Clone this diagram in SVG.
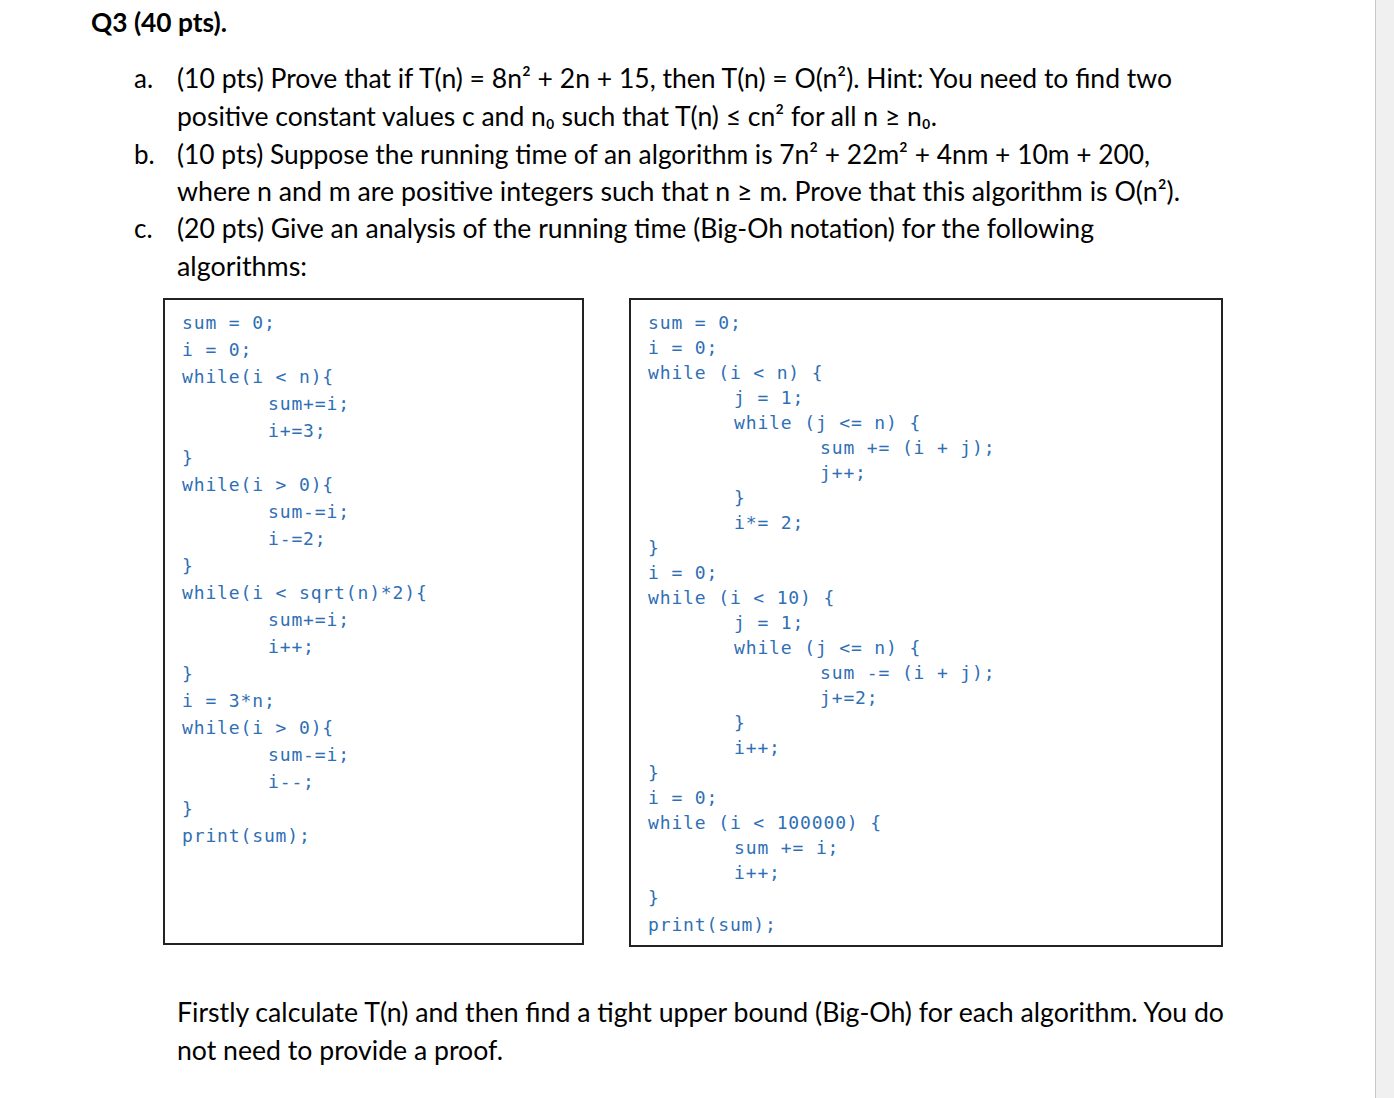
<svg xmlns="http://www.w3.org/2000/svg" width="1394" height="1098" viewBox="0 0 1394 1098">
<style>
.t{font-family:Lato,"Open Sans","DejaVu Sans",sans-serif;font-size:26px;fill:#000}
.b{font-weight:bold}
.c{font-family:"DejaVu Sans Mono","Liberation Mono",monospace;font-size:18px;fill:#2f6fb5;letter-spacing:0.86px;white-space:pre}
.box{fill:none;stroke:#222;stroke-width:2}
</style>
<rect width="1394" height="1098" fill="#fff"/>
<rect x="1375" y="0" width="19" height="1098" fill="#f0f0f0"/>
<line x1="1375.5" y1="0" x2="1375.5" y2="1098" stroke="#c8c8c8" stroke-width="1"/>
<text class="t b" x="91" y="32" textLength="136" lengthAdjust="spacingAndGlyphs">Q3 (40 pts).</text>
<text class="t" x="134" y="88">a.</text>
<text class="t" x="177" y="88" textLength="995" lengthAdjust="spacingAndGlyphs">(10 pts) Prove that if T(n) = 8n² + 2n + 15, then T(n) = O(n²). Hint: You need to find two</text>
<text class="t" x="177" y="126" textLength="760" lengthAdjust="spacingAndGlyphs">positive constant values c and n₀ such that T(n) ≤ cn² for all n ≥ n₀.</text>
<text class="t" x="134" y="164">b.</text>
<text class="t" x="177" y="164" textLength="973" lengthAdjust="spacingAndGlyphs">(10 pts) Suppose the running time of an algorithm is 7n² + 22m² + 4nm + 10m + 200,</text>
<text class="t" x="177" y="201" textLength="1003" lengthAdjust="spacingAndGlyphs">where n and m are positive integers such that n ≥ m. Prove that this algorithm is O(n²).</text>
<text class="t" x="134" y="238">c.</text>
<text class="t" x="177" y="238" textLength="917" lengthAdjust="spacingAndGlyphs">(20 pts) Give an analysis of the running time (Big-Oh notation) for the following</text>
<text class="t" x="177" y="276" textLength="130" lengthAdjust="spacingAndGlyphs">algorithms:</text>
<rect class="box" x="164" y="299" width="419" height="645"/>
<rect class="box" x="630" y="299" width="592" height="647"/>
<g id="left-code" class="c">
<text x="182" y="329">sum = 0;</text>
<text x="182" y="356">i = 0;</text>
<text x="182" y="383">while(i &lt; n){</text>
<text x="268" y="410">sum+=i;</text>
<text x="268" y="437">i+=3;</text>
<text x="182" y="464">}</text>
<text x="182" y="491">while(i &gt; 0){</text>
<text x="268" y="518">sum-=i;</text>
<text x="268" y="545">i-=2;</text>
<text x="182" y="572">}</text>
<text x="182" y="599">while(i &lt; sqrt(n)*2){</text>
<text x="268" y="626">sum+=i;</text>
<text x="268" y="653">i++;</text>
<text x="182" y="680">}</text>
<text x="182" y="707">i = 3*n;</text>
<text x="182" y="734">while(i &gt; 0){</text>
<text x="268" y="761">sum-=i;</text>
<text x="268" y="788">i--;</text>
<text x="182" y="815">}</text>
<text x="182" y="842">print(sum);</text>
</g>
<g id="right-code" class="c">
<text x="648" y="329">sum = 0;</text>
<text x="648" y="354">i = 0;</text>
<text x="648" y="379">while (i &lt; n) {</text>
<text x="734" y="404">j = 1;</text>
<text x="734" y="429">while (j &lt;= n) {</text>
<text x="820" y="454">sum += (i + j);</text>
<text x="820" y="479">j++;</text>
<text x="734" y="504">}</text>
<text x="734" y="529">i*= 2;</text>
<text x="648" y="554">}</text>
<text x="648" y="579">i = 0;</text>
<text x="648" y="604">while (i &lt; 10) {</text>
<text x="734" y="629">j = 1;</text>
<text x="734" y="654">while (j &lt;= n) {</text>
<text x="820" y="679">sum -= (i + j);</text>
<text x="820" y="704">j+=2;</text>
<text x="734" y="729">}</text>
<text x="734" y="754">i++;</text>
<text x="648" y="779">}</text>
<text x="648" y="804">i = 0;</text>
<text x="648" y="829">while (i &lt; 100000) {</text>
<text x="734" y="854">sum += i;</text>
<text x="734" y="879">i++;</text>
<text x="648" y="904">}</text>
<text x="648" y="931">print(sum);</text>
</g>
<text class="t" x="177" y="1022" textLength="1047" lengthAdjust="spacingAndGlyphs">Firstly calculate T(n) and then find a tight upper bound (Big-Oh) for each algorithm. You do</text>
<text class="t" x="177" y="1060" textLength="326" lengthAdjust="spacingAndGlyphs">not need to provide a proof.</text>
</svg>
